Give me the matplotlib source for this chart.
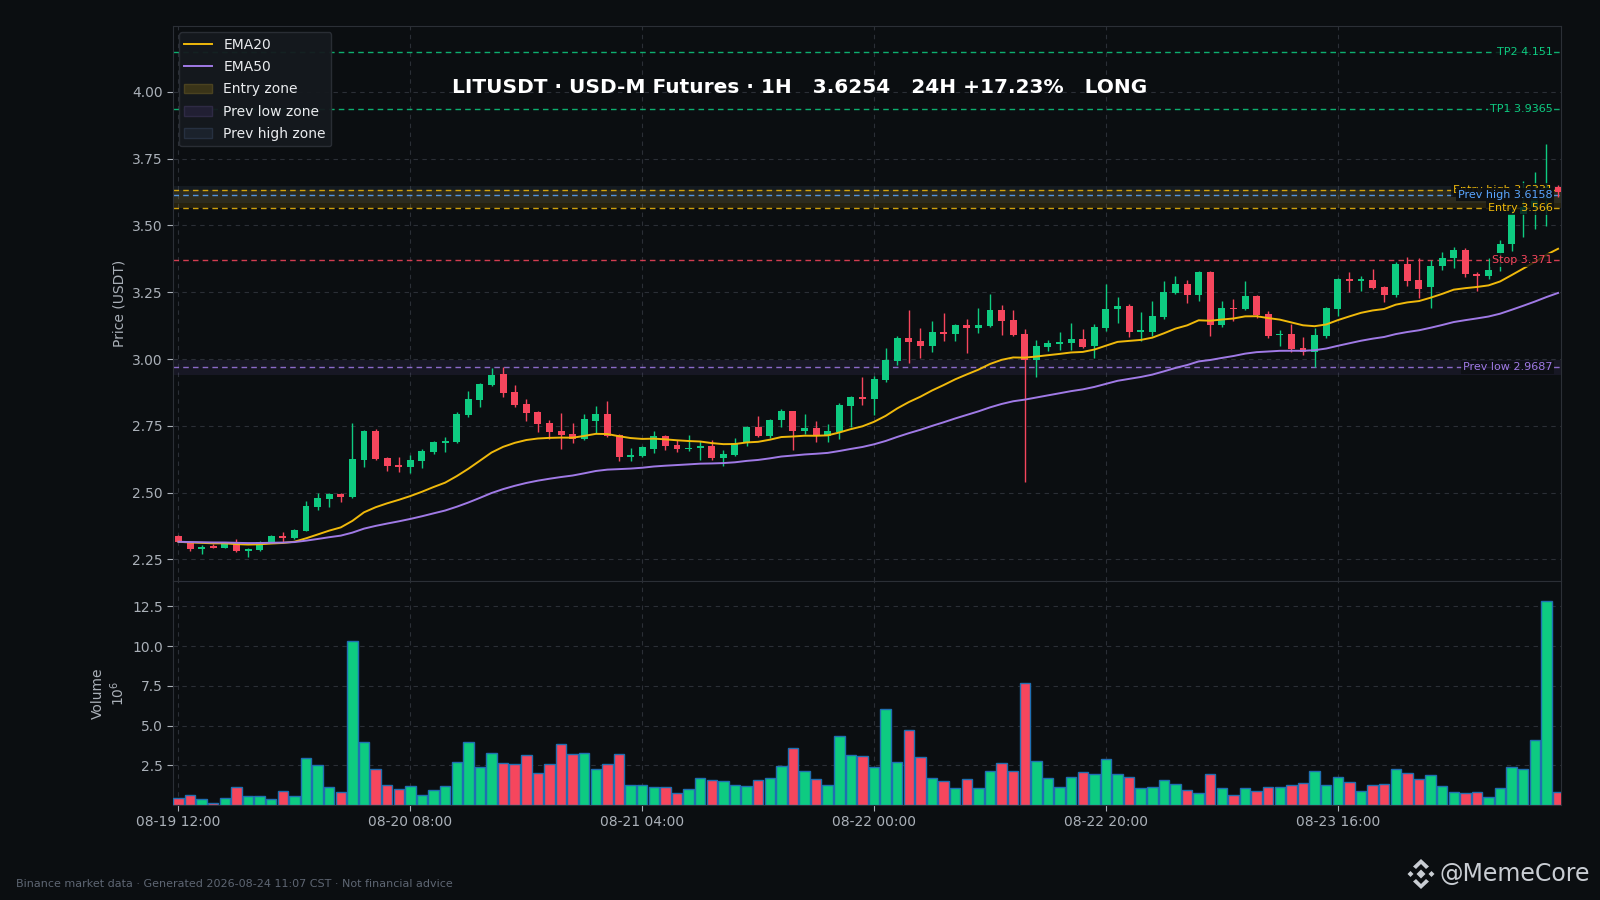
import numpy as np
import pandas as pd
import matplotlib
matplotlib.use("Agg")
import matplotlib.pyplot as plt
from matplotlib.lines import Line2D
from matplotlib.patches import Patch, Polygon

# ---------------- data ----------------
opens = [2.337, 2.314, 2.290, 2.301, 2.293, 2.310, 2.281, 2.286, 2.316, 2.339,
         2.330, 2.357, 2.447, 2.476, 2.495, 2.483, 2.622, 2.730, 2.630, 2.603,
         2.596, 2.618, 2.652, 2.686, 2.689, 2.790, 2.847, 2.903, 2.944, 2.877,
         2.832, 2.802, 2.760, 2.730, 2.719, 2.700, 2.768, 2.794, 2.714, 2.633,
         2.637, 2.663, 2.712, 2.678, 2.663, 2.667, 2.674, 2.629, 2.640, 2.686,
         2.745, 2.712, 2.770, 2.804, 2.729, 2.741, 2.711, 2.727, 2.823, 2.857,
         2.849, 2.923, 2.994, 3.080, 3.069, 3.050, 3.103, 3.095, 3.129, 3.117,
         3.125, 3.184, 3.147, 3.095, 2.998, 3.046, 3.057, 3.061, 3.076, 3.047,
         3.118, 3.186, 3.199, 3.103, 3.103, 3.158, 3.249, 3.282, 3.240, 3.326,
         3.128, 3.191, 3.188, 3.236, 3.169, 3.091, 3.092, 3.041, 3.025, 3.087,
         3.188, 3.301, 3.294, 3.297, 3.270, 3.240, 3.357, 3.296, 3.268, 3.349,
         3.380, 3.410, 3.320, 3.312, 3.398, 3.430, 3.542, 3.570, 3.600, 3.645]
highs = [2.342, 2.318, 2.304, 2.306, 2.312, 2.325, 2.292, 2.318, 2.340, 2.352,
         2.365, 2.468, 2.500, 2.498, 2.498, 2.759, 2.735, 2.739, 2.634, 2.633,
         2.640, 2.663, 2.695, 2.710, 2.800, 2.880, 2.912, 2.965, 2.969, 2.903,
         2.849, 2.806, 2.772, 2.797, 2.759, 2.793, 2.824, 2.843, 2.718, 2.668,
         2.675, 2.730, 2.716, 2.697, 2.716, 2.693, 2.697, 2.659, 2.704, 2.748,
         2.787, 2.775, 2.814, 2.806, 2.795, 2.769, 2.756, 2.836, 2.862, 2.934,
         2.937, 3.041, 3.085, 3.183, 3.117, 3.142, 3.172, 3.132, 3.151, 3.191,
         3.244, 3.202, 3.183, 3.114, 3.072, 3.070, 3.102, 3.136, 3.114, 3.133,
         3.280, 3.232, 3.206, 3.176, 3.217, 3.293, 3.312, 3.297, 3.330, 3.330,
         3.217, 3.223, 3.291, 3.240, 3.179, 3.109, 3.130, 3.082, 3.117, 3.195,
         3.302, 3.326, 3.312, 3.337, 3.275, 3.365, 3.381, 3.380, 3.370, 3.400,
         3.421, 3.415, 3.325, 3.380, 3.445, 3.562, 3.665, 3.700, 3.806, 3.652]
lows = [2.314, 2.282, 2.271, 2.291, 2.291, 2.278, 2.260, 2.280, 2.314, 2.316,
        2.325, 2.355, 2.434, 2.445, 2.466, 2.480, 2.597, 2.622, 2.582, 2.578,
        2.574, 2.593, 2.643, 2.653, 2.686, 2.782, 2.822, 2.900, 2.859, 2.820,
        2.769, 2.728, 2.699, 2.663, 2.687, 2.697, 2.723, 2.707, 2.618, 2.619,
        2.632, 2.649, 2.660, 2.653, 2.657, 2.622, 2.622, 2.600, 2.636, 2.673,
        2.708, 2.705, 2.747, 2.659, 2.718, 2.690, 2.688, 2.700, 2.747, 2.828,
        2.792, 2.913, 2.978, 2.985, 3.004, 3.026, 3.066, 3.066, 3.022, 3.096,
        3.120, 3.089, 3.085, 2.541, 2.932, 3.031, 3.035, 3.035, 3.040, 3.003,
        3.106, 3.136, 3.081, 3.069, 3.088, 3.151, 3.243, 3.209, 3.218, 3.088,
        3.120, 3.144, 3.185, 3.154, 3.078, 3.050, 3.026, 3.016, 2.971, 3.080,
        3.161, 3.250, 3.254, 3.261, 3.212, 3.234, 3.274, 3.229, 3.192, 3.332,
        3.341, 3.309, 3.255, 3.300, 3.330, 3.405, 3.458, 3.486, 3.498, 3.606]
closes = [2.316, 2.289, 2.297, 2.293, 2.310, 2.281, 2.289, 2.316, 2.337, 2.331,
          2.360, 2.450, 2.480, 2.495, 2.485, 2.626, 2.730, 2.626, 2.600, 2.596,
          2.622, 2.656, 2.689, 2.693, 2.794, 2.850, 2.907, 2.940, 2.874, 2.828,
          2.798, 2.757, 2.727, 2.716, 2.702, 2.775, 2.794, 2.712, 2.633, 2.640,
          2.670, 2.712, 2.674, 2.663, 2.667, 2.674, 2.629, 2.644, 2.686, 2.745,
          2.712, 2.772, 2.804, 2.729, 2.741, 2.711, 2.729, 2.827, 2.857, 2.849,
          2.926, 2.998, 3.080, 3.065, 3.050, 3.103, 3.095, 3.129, 3.117, 3.129,
          3.184, 3.144, 3.091, 2.998, 3.050, 3.061, 3.065, 3.076, 3.046, 3.120,
          3.188, 3.199, 3.103, 3.106, 3.161, 3.251, 3.282, 3.240, 3.326, 3.128,
          3.191, 3.188, 3.236, 3.165, 3.087, 3.093, 3.037, 3.025, 3.091, 3.191,
          3.299, 3.293, 3.300, 3.266, 3.240, 3.357, 3.293, 3.264, 3.349, 3.380,
          3.410, 3.319, 3.312, 3.332, 3.430, 3.542, 3.570, 3.600, 3.645, 3.6254]
volumes = [0.45, 0.64, 0.35, 0.15, 0.45, 1.12, 0.55, 0.55, 0.35, 0.88,
           0.55, 2.94, 2.50, 1.12, 0.79, 10.3, 3.94, 2.25, 1.25, 1.00,
           1.19, 0.60, 0.94, 1.19, 2.69, 3.94, 2.39, 3.25, 2.62, 2.56,
           3.12, 2.00, 2.56, 3.81, 3.19, 3.25, 2.25, 2.56, 3.19, 1.25,
           1.25, 1.12, 1.12, 0.75, 1.00, 1.69, 1.56, 1.50, 1.25, 1.19,
           1.56, 1.69, 2.45, 3.56, 2.14, 1.64, 1.27, 4.37, 3.12, 3.06,
           2.39, 6.06, 2.71, 4.69, 3.00, 1.71, 1.52, 1.08, 1.64, 1.08,
           2.14, 2.64, 2.14, 7.71, 2.77, 1.71, 1.14, 1.77, 2.10, 1.94,
           2.87, 1.94, 1.73, 1.08, 1.15, 1.55, 1.29, 0.92, 0.78, 1.94,
           1.04, 0.64, 1.08, 0.85, 1.15, 1.15, 1.24, 1.36, 2.13, 1.24,
           1.73, 1.43, 0.85, 1.24, 1.29, 2.28, 2.01, 1.66, 1.90, 1.19,
           0.84, 0.76, 0.84, 0.51, 1.08, 2.36, 2.28, 4.11, 12.85, 0.84]
tick_positions = [0, 20, 40, 60, 80, 100]
tick_labels = ["08-19 12:00", "08-20 08:00", "08-21 04:00",
               "08-22 00:00", "08-22 20:00", "08-23 16:00"]

tp2, tp1 = 4.151, 3.9365
entry_high, prev_high, entry = 3.6331, 3.6158, 3.566
stop, prev_low = 3.371, 2.9687

# ---------------- style ----------------
BG = "#0b0e11"
GRID = "#2b2f36"
TXT = "#aab0b8"
GREEN = "#0ecb81"
RED = "#f6465d"
YEL = "#f0b90b"
PURP = "#a07ae6"
BLUE = "#5aa6ff"

plt.rcParams["font.family"] = ["DejaVu Sans"]

fig = plt.figure(figsize=(16, 9), dpi=100, facecolor=BG)
ax = fig.add_axes([0.1083, 0.3544, 0.8673, 0.6162])
axv = fig.add_axes([0.1083, 0.1056, 0.8673, 0.2488], sharex=ax)

o = np.array(opens); h = np.array(highs); l = np.array(lows); c = np.array(closes)
v = np.array(volumes)
x = np.arange(len(o))
up = c >= o
cols = np.where(up, GREEN, RED)

for a in (ax, axv):
    a.set_facecolor(BG)
    for s in a.spines.values():
        s.set_color(GRID)
    a.grid(True, color=GRID, linestyle=(0, (4, 4)), linewidth=0.8)
    a.set_axisbelow(True)
    a.tick_params(colors=TXT, labelsize=10, length=4)

# zones
ax.axhspan(entry, entry_high, color=YEL, alpha=0.12, lw=0, zorder=1)
ax.axhspan(prev_high * 0.991, prev_high * 1.009, color="#5b7290", alpha=0.12, lw=0, zorder=1)
ax.axhspan(prev_low * 0.991, prev_low * 1.009, color="#6c5aa8", alpha=0.13, lw=0, zorder=1)

# candles
ax.vlines(x, l, h, colors=cols, linewidth=1.0, zorder=3)
body_lo = np.minimum(o, c)
body_h = np.maximum(np.abs(c - o), 0.004)
ax.bar(x, body_h, bottom=body_lo, width=0.6, color=cols, linewidth=0, zorder=4)

# EMAs
ema20 = pd.Series(c).ewm(span=20, adjust=False).mean()
ema50 = pd.Series(c).ewm(span=50, adjust=False).mean()
ax.plot(x, ema20, color=YEL, lw=1.4, zorder=5)
ax.plot(x, ema50, color=PURP, lw=1.4, zorder=5)

# level lines
dash = (0, (4, 3))
levels = [
    (tp2, GREEN, f"TP2 {tp2:g}", GREEN, 0.8),
    (tp1, GREEN, f"TP1 {tp1:g}", GREEN, 0.8),
    (entry_high, YEL, f"Entry high {entry_high:g}", YEL, 0.8),
    (prev_high, BLUE, f"Prev high {prev_high:g}", BLUE, 0.92),
    (entry, YEL, f"Entry {entry:g}", YEL, 0.8),
    (stop, RED, f"Stop {stop:g}", RED, 0.8),
    (prev_low, PURP, f"Prev low {prev_low:g}", PURP, 0.8),
]
for y, col, lab, tcol, balpha in levels:
    ax.axhline(y, color=col, ls=dash, lw=1.0, alpha=0.85, zorder=2)
    ax.text(0.994, y, lab, transform=ax.get_yaxis_transform(), ha="right", va="center",
            fontsize=8, color=tcol, zorder=6,
            bbox=dict(boxstyle="square,pad=0.15", facecolor=BG, edgecolor="none", alpha=balpha))

ax.set_ylim(2.169, 4.245)
ax.set_yticks([2.25, 2.5, 2.75, 3.0, 3.25, 3.5, 3.75, 4.0])
ax.yaxis.set_major_formatter(matplotlib.ticker.FormatStrFormatter("%.2f"))
ax.set_ylabel("Price (USDT)", color=TXT, fontsize=10)
ax.tick_params(axis="x", labelbottom=False, length=0)
ax.set_xlim(-0.45, 119.25)
ax.set_xticks(tick_positions)

# volume
axv.bar(x, v, width=0.9, color=cols, edgecolor="#1f6fb2", linewidth=1.0, zorder=3)
axv.set_ylim(0, 14.1)
axv.set_yticks([2.5, 5.0, 7.5, 10.0, 12.5])
axv.yaxis.set_major_formatter(matplotlib.ticker.FormatStrFormatter("%.1f"))
axv.set_ylabel("Volume\n$10^{6}$", color=TXT, fontsize=10)
axv.set_xticks(tick_positions)
axv.set_xticklabels(tick_labels)
axv.set_xlim(-0.45, 119.25)

# legend
handles = [
    Line2D([], [], color=YEL, lw=1.4, label="EMA20"),
    Line2D([], [], color=PURP, lw=1.4, label="EMA50"),
    Patch(facecolor="#3a3418", edgecolor="#4a4220", label="Entry zone"),
    Patch(facecolor="#211f33", edgecolor="#2e2a44", label="Prev low zone"),
    Patch(facecolor="#1b222c", edgecolor="#263040", label="Prev high zone"),
]
leg = ax.legend(handles=handles, loc="upper left", fontsize=10, facecolor="#15191e",
                edgecolor=GRID, framealpha=0.95, labelcolor="#eaecef",
                borderaxespad=0.4, handlelength=2.0, labelspacing=0.6)
leg.set_zorder(10)

# title
fig.text(0.5, 0.903, "LITUSDT · USD-M Futures · 1H   3.6254   24H +17.23%   LONG",
         ha="center", va="center", fontsize=14.5, fontweight="bold", color="#ffffff")

# footer
fig.text(0.01, 0.012, "Binance market data · Generated 2026-08-24 11:07 CST · Not financial advice",
         ha="left", va="bottom", fontsize=8, color="#5e6673")

# brand
fig.text(0.994, 0.029, "@MemeCore", ha="right", va="center", fontsize=17, color="#c9cdd3")
cx, cy = 1421.0, 900 - 874.0
def diamond(xc, yc, r):
    return [(xc, yc + r), (xc + r, yc), (xc, yc - r), (xc - r, yc)]
def add_poly(pts):
    fig.patches.append(Polygon([(px / 1600, py / 900) for px, py in pts], closed=True,
                               transform=fig.transFigure, facecolor="#c9cdd3",
                               edgecolor="none"))
add_poly(diamond(cx, cy, 4.5))
add_poly(diamond(cx - 10.5, cy, 3))
add_poly(diamond(cx + 10.5, cy, 3))
for sgn in (1, -1):
    add_poly([(cx, cy + sgn * 15), (cx + 8, cy + sgn * 7.5), (cx + 5, cy + sgn * 5),
              (cx, cy + sgn * 10), (cx - 5, cy + sgn * 5), (cx - 8, cy + sgn * 7.5)])

fig.savefig("out.png", dpi=100, facecolor=BG)
